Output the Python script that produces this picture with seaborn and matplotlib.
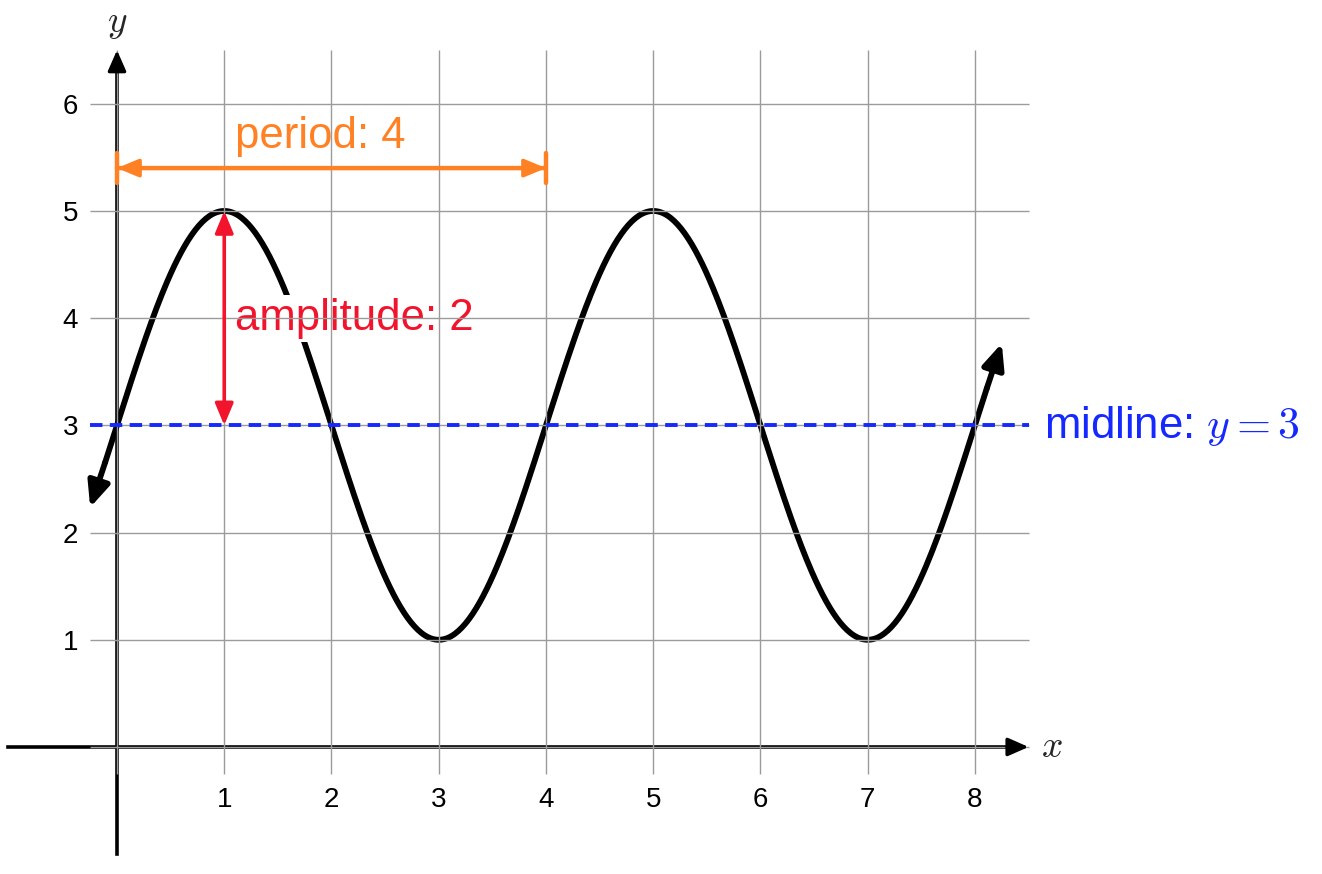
import numpy as np
import matplotlib
matplotlib.use('Agg')
import matplotlib.pyplot as plt
import seaborn as sns

# sinusoid
AMPLITUDE = 2
MIDLINE   = 3
PERIOD    = 4
X_START   = -0.25
X_END     = 8.25

x_ticks = [1, 2, 3, 4, 5, 6, 7, 8]
y_ticks = [1, 2, 3, 4, 5, 6]
grid_x  = [0, 1, 2, 3, 4, 5, 6, 7, 8]
grid_y  = [0, 1, 2, 3, 4, 5, 6]

ORANGE = '#ff8124'
RED    = '#f2142c'
BLUE   = '#1428ff'
GRID   = '#9b9b9b'

sns.set_style('white')
plt.rcParams['font.family'] = ['Liberation Sans', 'DejaVu Sans']
plt.rcParams['mathtext.fontset'] = 'cm'

fig = plt.figure(figsize=(13.22, 8.74), dpi=100)
ax = fig.add_axes([0, 0, 1, 1])
ax.set_xlim(-1.091, 11.236)
ax.set_ylim(-1.185, 6.968)

# axes through the origin
for side in ['top', 'right']:
    ax.spines[side].set_visible(False)
ax.spines['left'].set_position(('data', 0))
ax.spines['bottom'].set_position(('data', 0))
ax.spines['left'].set_bounds(-1.0, 6.4)
ax.spines['bottom'].set_bounds(-1.02, 8.4)
for side in ['left', 'bottom']:
    ax.spines[side].set_linewidth(2.6)
    ax.spines[side].set_color('black')
ax.annotate('', xy=(8.5, 0), xytext=(8.3, 0),
            arrowprops=dict(arrowstyle='-|>, head_length=0.5, head_width=0.22',
                            lw=2.4, color='black',
                            mutation_scale=25, shrinkA=0, shrinkB=0))
ax.annotate('', xy=(0, 6.5), xytext=(0, 6.3),
            arrowprops=dict(arrowstyle='-|>, head_length=0.5, head_width=0.22',
                            lw=2.4, color='black',
                            mutation_scale=25, shrinkA=0, shrinkB=0))

ax.set_xticks(x_ticks)
ax.set_yticks(y_ticks)
ax.set_xticklabels([str(t) for t in x_ticks])
ax.set_yticklabels([str(t) for t in y_ticks])
ax.tick_params(axis='x', length=0, pad=29, labelsize=20, labelcolor='black')
ax.tick_params(axis='y', length=0, pad=28, labelsize=20, labelcolor='black')
ax.text(8.62, -0.09, '$x$', fontsize=27, ha='left', va='baseline')
ax.text(0, 6.67, '$y$', fontsize=27, ha='center', va='baseline')

# grid (drawn over the labels, like the reference)
ax.vlines(grid_x, -0.25, 6.5, color=GRID, lw=1.0, zorder=2.6)
ax.hlines(grid_y, -0.25, 8.5, color=GRID, lw=1.0, zorder=2.6)

# the curve
xs = np.linspace(X_START + 0.14, X_END - 0.14, 500)
ys = MIDLINE + AMPLITUDE * np.sin(2 * np.pi * xs / PERIOD)
sns.lineplot(x=xs, y=ys, color='black', lw=4.2, sort=False,
             estimator=None, ax=ax, zorder=2.2)
for x_in, x_tip in [(X_START + 0.14, X_START), (X_END - 0.14, X_END)]:
    y_in = MIDLINE + AMPLITUDE * np.sin(2 * np.pi * x_in / PERIOD)
    y_tip = MIDLINE + AMPLITUDE * np.sin(2 * np.pi * x_tip / PERIOD)
    ax.annotate('', xy=(x_tip, y_tip), xytext=(x_in, y_in),
                arrowprops=dict(arrowstyle='-|>, head_length=0.5, head_width=0.22',
                                lw=4.2, color='black',
                                mutation_scale=30, shrinkA=0, shrinkB=0),
                zorder=2.2)

# midline
ax.plot([-0.25, 8.5], [MIDLINE, MIDLINE], color=BLUE, lw=2.8,
        linestyle=(0, (3.2, 1.9)), zorder=3)
ax.text(8.64, 2.88, 'midline: $y = 3$', color=BLUE, fontsize=31.5,
        ha='left', va='baseline')

# amplitude
ax.annotate('', xy=(1, MIDLINE + AMPLITUDE), xytext=(1, MIDLINE),
            arrowprops=dict(arrowstyle='<|-|>, head_length=0.6, head_width=0.25',
                            lw=2.6, color=RED,
                            mutation_scale=22, shrinkA=0, shrinkB=0),
            zorder=3)
ax.text(1.1, 3.89, f'amplitude: {AMPLITUDE}', color=RED, fontsize=31.5,
        ha='left', va='baseline', zorder=2.4,
        bbox=dict(facecolor='white', edgecolor='none', pad=2))

# period: arrow plus end bars
ax.annotate('', xy=(PERIOD, 5.4), xytext=(0, 5.4),
            arrowprops=dict(arrowstyle='<|-|>, head_length=0.6, head_width=0.25',
                            lw=2.6, color=ORANGE,
                            mutation_scale=22, shrinkA=0, shrinkB=0),
            zorder=3)
ax.annotate('', xy=(PERIOD, 5.4), xytext=(0, 5.4),
            arrowprops=dict(arrowstyle='|-|, widthA=0.5, widthB=0.5',
                            lw=3.2, color=ORANGE, mutation_scale=22,
                            shrinkA=0, shrinkB=0),
            zorder=3)
ax.text(1.1, 5.59, f'period: {PERIOD}', color=ORANGE, fontsize=31.5,
        ha='left', va='baseline', zorder=2.4)

plt.savefig('out.png', dpi=100)
plt.close()
